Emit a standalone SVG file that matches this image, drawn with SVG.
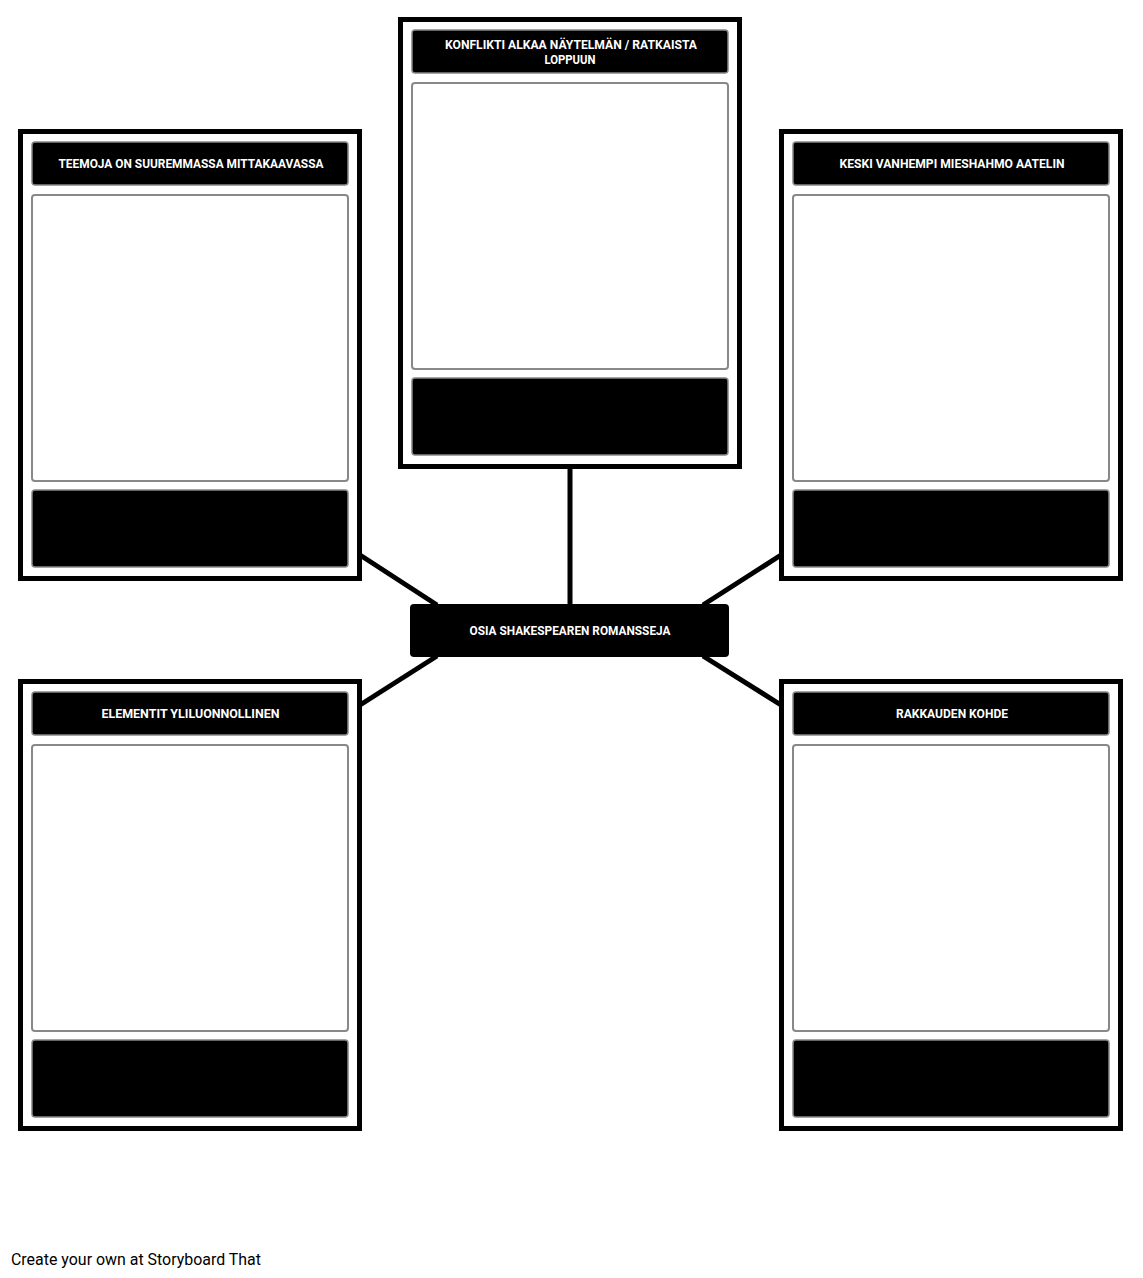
<svg xmlns="http://www.w3.org/2000/svg" width="1143" height="1278" viewBox="0 0 1143 1278">
<style>
.frame{fill:#fff;stroke:#000;stroke-width:5}
.bar{fill:#000;stroke:#888;stroke-width:1.5}
.pic{fill:#fff;stroke:#888;stroke-width:2}
.t{font-family:Roboto,"Liberation Sans",sans-serif;font-weight:bold;font-size:13px;fill:#fff;text-anchor:middle}
.conn{stroke:#000;stroke-width:5;fill:none}
.foot{font-family:Roboto,"Liberation Sans",sans-serif;font-size:16px;fill:#000}
</style>
<defs>
<g id="card">
<rect class="frame" x="2.5" y="2.5" width="339" height="447"/>
<rect class="bar" x="14" y="13" width="316" height="43" rx="3"/>
<rect class="pic" x="14" y="66" width="316" height="286" rx="3"/>
<rect class="bar" x="14" y="361" width="316" height="77" rx="3"/>
</g>
</defs>
<rect width="1143" height="1278" fill="#fff"/>
<g id="connectors">
<line class="conn" x1="570" y1="466" x2="570" y2="606"/>
<line class="conn" x1="360" y1="555" x2="437" y2="605"/>
<line class="conn" x1="437" y1="656" x2="360" y2="705"/>
<line class="conn" x1="703" y1="605" x2="781" y2="555"/>
<line class="conn" x1="703" y1="656" x2="781" y2="705"/>
</g>
<g id="card-top">
<use href="#card" x="398" y="17"/>
<text class="t" x="571" y="49" textLength="252" lengthAdjust="spacingAndGlyphs">KONFLIKTI ALKAA NÄYTELMÄN / RATKAISTA</text>
<text class="t" x="570" y="64" textLength="51" lengthAdjust="spacingAndGlyphs">LOPPUUN</text>
</g>
<g id="card-left">
<use href="#card" x="18" y="129"/>
<text class="t" x="191" y="167.5" textLength="265" lengthAdjust="spacingAndGlyphs">TEEMOJA ON SUUREMMASSA MITTAKAAVASSA</text>
</g>
<g id="card-right">
<use href="#card" x="779" y="129"/>
<text class="t" x="952" y="167.5" textLength="225" lengthAdjust="spacingAndGlyphs">KESKI VANHEMPI MIESHAHMO AATELIN</text>
</g>
<g id="card-bottom-left">
<use href="#card" x="18" y="679"/>
<text class="t" x="190.5" y="717.5" textLength="178" lengthAdjust="spacingAndGlyphs">ELEMENTIT YLILUONNOLLINEN</text>
</g>
<g id="card-bottom-right">
<use href="#card" x="779" y="679"/>
<text class="t" x="952" y="717.5" textLength="112" lengthAdjust="spacingAndGlyphs">RAKKAUDEN KOHDE</text>
</g>
<g id="center">
<rect x="410" y="604" width="319" height="53" rx="4" fill="#000"/>
<text class="t" x="570" y="635" textLength="201" lengthAdjust="spacingAndGlyphs">OSIA SHAKESPEAREN ROMANSSEJA</text>
</g>
<text class="foot" x="11" y="1265" textLength="250" lengthAdjust="spacingAndGlyphs">Create your own at Storyboard That</text>
</svg>
